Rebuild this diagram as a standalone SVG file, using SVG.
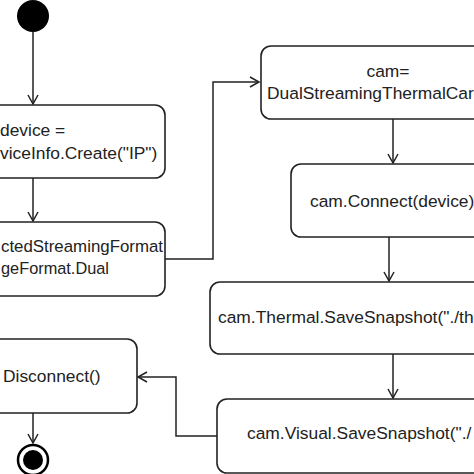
<svg xmlns="http://www.w3.org/2000/svg" width="474" height="474" viewBox="0 0 474 474">
<style>
.node{fill:#fff;stroke:#222;stroke-width:1.6}
.t{font-family:"Liberation Sans",Arial,sans-serif;font-size:17.4px;fill:#222}
.edge{fill:none;stroke:#222;stroke-width:1.5}
</style>
<defs>
<marker id="arr" markerWidth="12" markerHeight="12" refX="10" refY="6" orient="auto" markerUnits="userSpaceOnUse">
<path d="M1,1 L10,6 L1,11" fill="none" stroke="#222" stroke-width="1.5"/>
</marker>
</defs>
<rect width="474" height="474" fill="#fff"/>
<g id="connectors">
<line class="edge" x1="33" y1="32" x2="33" y2="104" marker-end="url(#arr)"/>
<line class="edge" x1="33" y1="178" x2="33" y2="221" marker-end="url(#arr)"/>
<polyline class="edge" points="165,259 213,259 213,82 259,82" marker-end="url(#arr)"/>
<line class="edge" x1="393" y1="119" x2="393" y2="163" marker-end="url(#arr)"/>
<line class="edge" x1="389" y1="237" x2="389" y2="281" marker-end="url(#arr)"/>
<line class="edge" x1="393" y1="354" x2="393" y2="398" marker-end="url(#arr)"/>
<polyline class="edge" points="217,436 176,436 176,377 138,377" marker-end="url(#arr)"/>
<line class="edge" x1="33" y1="413" x2="33" y2="443" marker-end="url(#arr)"/>
</g>
<g id="start"><circle cx="33" cy="16" r="16" fill="#000"/></g>
<g id="n1">
<rect class="node" x="-100" y="105" width="265" height="73" rx="10"/>
<text class="t" x="0" y="136">device =</text>
<text class="t" x="0" y="159">viceInfo.Create("IP")</text>
</g>
<g id="n2">
<rect class="node" x="-100" y="222" width="265" height="74" rx="10"/>
<text class="t" x="1" y="252" textLength="162" lengthAdjust="spacingAndGlyphs">ctedStreamingFormat</text>
<text class="t" x="1" y="274" textLength="108" lengthAdjust="spacingAndGlyphs">geFormat.Dual</text>
</g>
<g id="n3">
<rect class="node" x="261" y="46" width="270" height="73" rx="10"/>
<text class="t" x="388" y="77" text-anchor="middle">cam=</text>
<text class="t" x="267" y="99">DualStreamingThermalCar</text>
</g>
<g id="n4">
<rect class="node" x="291" y="164" width="200" height="73" rx="10"/>
<text class="t" x="310" y="207">cam.Connect(device)</text>
</g>
<g id="n5">
<rect class="node" x="210" y="282" width="370" height="72" rx="10"/>
<text class="t" x="218" y="323">cam.Thermal.SaveSnapshot("./th</text>
</g>
<g id="n6">
<rect class="node" x="217" y="399" width="360" height="74" rx="10"/>
<text class="t" x="247" y="439">cam.Visual.SaveSnapshot("./</text>
</g>
<g id="n7">
<rect class="node" x="-70" y="339" width="207" height="74" rx="10"/>
<text class="t" x="3" y="382">Disconnect()</text>
</g>
<g id="end">
<circle cx="33" cy="460" r="15" fill="#fff" stroke="#000" stroke-width="2.5"/>
<circle cx="33" cy="460" r="10" fill="#000"/>
</g>
</svg>
